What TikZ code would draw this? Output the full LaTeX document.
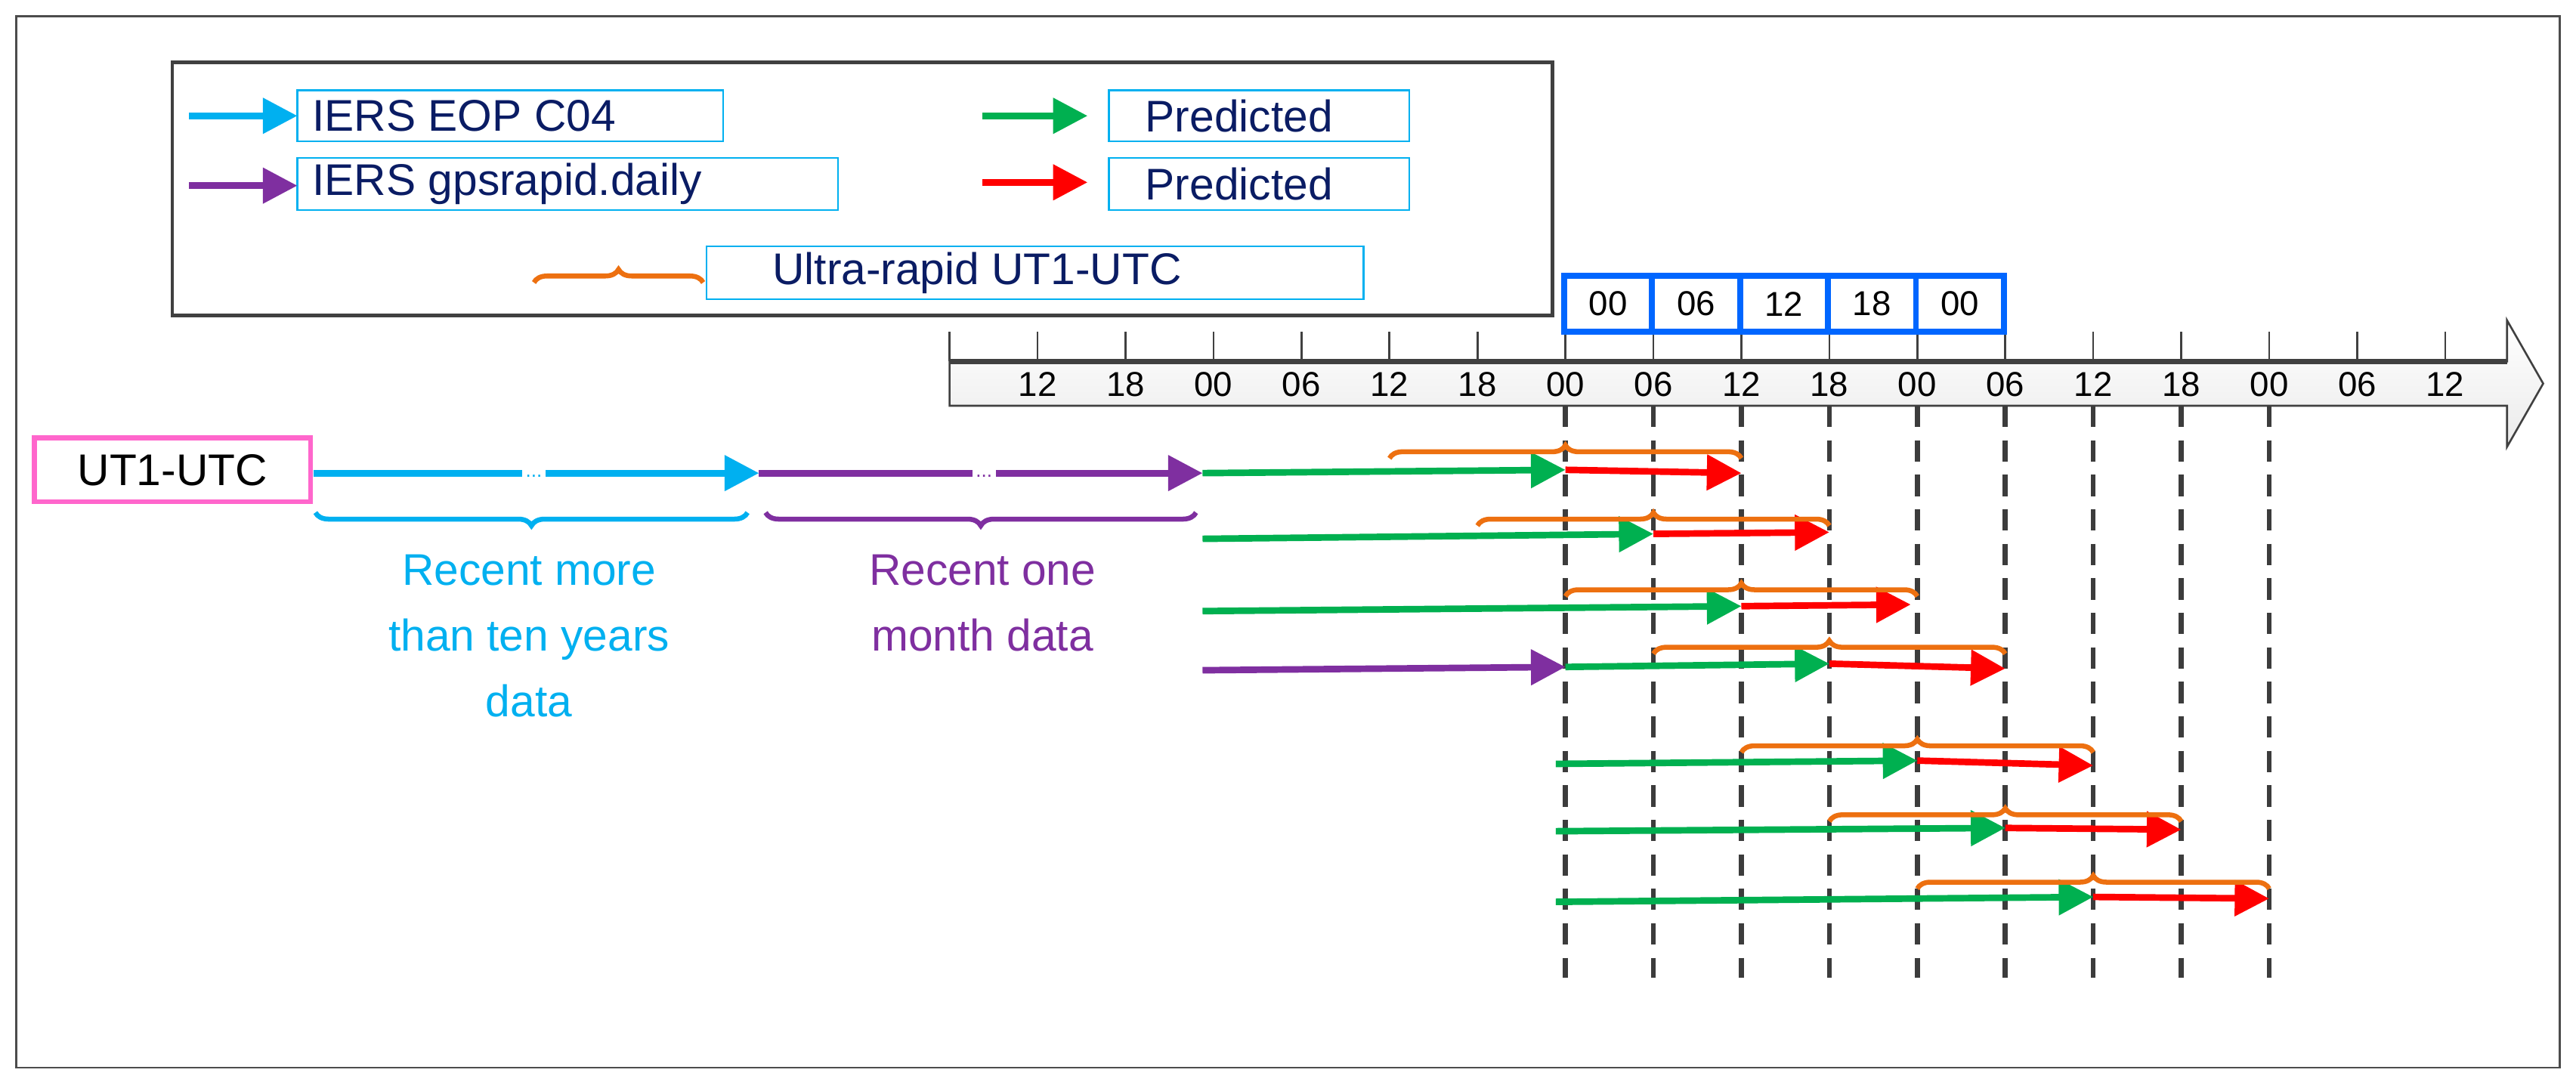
\documentclass[tikz,border=0pt]{standalone}
\usepackage{fontspec}
\setmainfont{Liberation Sans}
\usetikzlibrary{arrows.meta,decorations.pathreplacing}
\definecolor{ccyan}{HTML}{00B0F0}
\definecolor{cpurple}{HTML}{7F2FA0}
\definecolor{cgreen}{HTML}{00B050}
\definecolor{cred}{HTML}{FF0000}
\definecolor{corange}{HTML}{ED7010}
\definecolor{cnavy}{HTML}{0A1C64}
\definecolor{cblue}{HTML}{0066FF}
\definecolor{cpink}{HTML}{FF66CC}
\begin{document}
\begin{tikzpicture}[x=1pt,y=-1pt,
  arr/.style={line width=4pt,-{Triangle[length=21pt,width=21pt]}},
  legbox/.style={draw=ccyan,line width=1pt},
  legtxt/.style={text=cnavy,font=\fontsize{27}{28}\selectfont,inner sep=0pt,anchor=west},
  ub/.style={corange,line width=3pt,decorate,decoration={brace,amplitude=8pt}},
  db/.style={line width=3pt,decorate,decoration={brace,amplitude=8pt,mirror}},
  dl/.style={line width=3pt,draw={rgb,255:red,60;green,60;blue,60},dash pattern=on 13pt off 8pt},
  tk/.style={font=\fontsize{21}{22}\selectfont},
  cell/.style={draw=cblue,line width=3.5pt,minimum width=53.6pt,minimum height=34pt,inner sep=0pt,font=\fontsize{21}{22}\selectfont}]
\useasboundingbox (0,0) rectangle (1568,658.6);
\fill[white] (0,0) rectangle (1568,658.6);
\draw[line width=1.2pt,black!70] (10,10) rectangle (1558,650);
% legend
\draw[line width=2pt,black!75] (105,38) rectangle (945,192);
\draw[legbox] (181,55) rectangle (440,86);
\draw[legbox] (181,96) rectangle (510,128);
\draw[legbox] (675,55) rectangle (858,86);
\draw[legbox] (675,96) rectangle (858,128);
\draw[legbox] (430,150) rectangle (830,182);
\node[legtxt] (l1) at (190,70.5) {IERS EOP C04};
\node[legtxt] (l2) at (190,112) {IERS gpsrapid.daily};
\node[legtxt] (l3) at (697,70.5) {Predicted};
\node[legtxt] (l4) at (697,112) {Predicted};
\node[legtxt] (l5) at (470,166) {Ultra-rapid UT1-UTC};
\coordinate (a1) at (115,70.5); \coordinate (a2) at (115,113);
\coordinate (a3) at (598,70.5); \coordinate (a4) at (598,111);
\draw[arr,ccyan] (a1) -- (181,70.5);
\draw[arr,cpurple] (a2) -- (181,113);
\draw[arr,cgreen] (a3) -- (662,70.5);
\draw[arr,cred] (a4) -- (662,111);
\draw[ub] (325,172) -- (428,172);
% timeline
\shade[top color=white,bottom color=black!8,draw=black!75,line width=1.2pt]
  (578,220) -- (1526,220) -- (1526,195) -- (1548,233.5) -- (1526,272) -- (1526,247) -- (578,247) -- cycle;
\draw[line width=3pt,black!75] (578,220) -- (1526,220);
\draw[line width=1.2pt,black!75] (578,202) -- (578,220);
\foreach \i/\l in {1/12,2/18,3/00,4/06,5/12,6/18,7/00,8/06,9/12,10/18,11/00,12/06,13/12,14/18,15/00,16/06,17/12}{
  \draw[line width=1.2pt,black!75] ({578+53.55*\i},202) -- ({578+53.55*\i},220);
  \node[tk] (t\i) at ({578+53.55*\i},234) {\l};
}
\foreach \i/\l in {0/00,1/06,2/12,3/18,4/00}{
  \node[cell] (c\i) at ({978.8+53.55*\i},185) {\l};
}
\foreach \i in {7,...,15}{
  \draw[dl] ({578+53.55*\i},247) -- ({578+53.55*\i},595);
}
% UT1-UTC
\node[draw=cpink,line width=3pt,minimum width=168pt,minimum height=39pt,font=\fontsize{27}{28}\selectfont,inner sep=0pt] (ut) at (105,286) {UT1-UTC};
\coordinate (m1) at (462,288);
\coordinate (m2) at (732,288);
\draw[arr,ccyan] (191,288) -- (m1);
\draw[arr,cpurple] (m1) -- (m2);
\fill[white] (318,283) rectangle (332,294);
\fill[white] (592,283) rectangle (606,294);
\node[ccyan,font=\fontsize{12}{12}\selectfont] at (325,290) {...};
\node[cpurple,font=\fontsize{12}{12}\selectfont] at (599,290) {...};
\draw[db,ccyan] (192,312) -- (455,312);
\draw[db,cpurple] (466,312) -- (728,312);
\node[ccyan,font=\fontsize{27}{40}\selectfont,align=center,anchor=north] (txc) at (322,334) {Recent more\\than ten years\\data};
\node[cpurple,font=\fontsize{27}{40}\selectfont,align=center,anchor=north] (txp) at (598,334) {Recent one\\month data};
% rows
\draw[arr,cgreen] (m2) -- ({578+53.55*7},286);
\draw[arr,cred] ({578+53.55*7},286) -- ({578+53.55*9},288);
\draw[ub] ({578+53.55*5},279) -- ({578+53.55*9},279);
\draw[arr,cgreen] (732,328) -- ({578+53.55*8},325);
\draw[arr,cred] ({578+53.55*8},325) -- ({578+53.55*10},324);
\draw[ub] ({578+53.55*6},320) -- ({578+53.55*10},320);
\draw[arr,cgreen] (732,372) -- ({578+53.55*9},369);
\draw[arr,cred] ({578+53.55*9},369) -- ({578+53.55*11-4},368);
\draw[ub] ({578+53.55*7},363) -- ({578+53.55*11},363);
\draw[arr,cpurple] (732,408) -- ({578+53.55*7},406);
\draw[arr,cgreen] ({578+53.55*7},406) -- ({578+53.55*10},404);
\draw[arr,cred] ({578+53.55*10},404) -- ({578+53.55*12},407);
\draw[ub] ({578+53.55*8},398) -- ({578+53.55*12},398);
\draw[arr,cgreen] (947,465) -- ({578+53.55*11},463);
\draw[arr,cred] ({578+53.55*11},463) -- ({578+53.55*13},466);
\draw[ub] ({578+53.55*9},458) -- ({578+53.55*13},458);
\draw[arr,cgreen] (947,506) -- ({578+53.55*12},504);
\draw[arr,cred] ({578+53.55*12},504) -- ({578+53.55*14},505);
\draw[ub] ({578+53.55*10},500) -- ({578+53.55*14},500);
\draw[arr,cgreen] (947,549) -- ({578+53.55*13},546);
\draw[arr,cred] ({578+53.55*13},546) -- ({578+53.55*15},547);
\draw[ub] ({578+53.55*11},541) -- ({578+53.55*15},541);
\end{tikzpicture}
\end{document}
